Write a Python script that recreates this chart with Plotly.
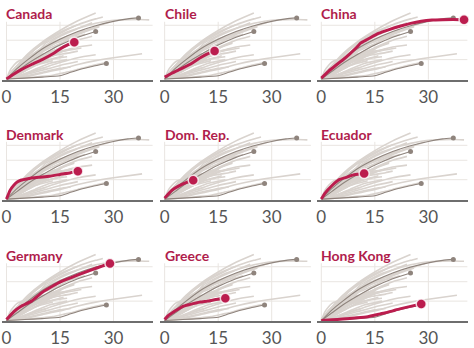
import plotly.graph_objects as go

# ---------------- data (x = days, y = log10 of cases) ----------------
panels = ["Canada", "Chile", "China", "Denmark", "Dom. Rep.", "Ecuador",
          "Germany", "Greece", "Hong Kong"]

canada_days = [0, 2, 4, 7, 10, 13, 15, 17, 19]
canada_vals = [2.0, 2.25, 2.47, 2.75, 3.0, 3.3, 3.55, 3.75, 3.9]

chile_days = [0, 2, 5, 7, 10, 12, 14]
chile_vals = [2.1, 2.3, 2.56, 2.75, 3.1, 3.3, 3.44]

china_days = [0, 2, 4, 6, 8, 10, 11, 13, 16, 19, 22, 25, 28, 31, 34, 37, 40]
china_vals = [2.05, 2.4, 2.7, 2.98, 3.3, 3.65, 3.85, 4.05, 4.35, 4.55, 4.72,
              4.87, 4.98, 5.04, 5.06, 5.07, 5.05]

denmark_days = [0, 1, 2, 3, 4, 6, 9, 12, 15, 18, 20]
denmark_vals = [2.0, 2.45, 2.7, 2.88, 2.97, 3.05, 3.12, 3.18, 3.27, 3.36, 3.44]

domrep_days = [0, 2, 4, 6, 8]
domrep_vals = [2.05, 2.45, 2.68, 2.85, 2.97]

ecuador_days = [0, 1, 3, 5, 7, 9, 11, 12]
ecuador_vals = [2.0, 2.3, 2.7, 3.0, 3.12, 3.25, 3.3, 3.32]

germany_days = [0, 2, 4, 7, 10, 13, 15, 18, 21, 24, 27, 29]
germany_vals = [2.05, 2.45, 2.72, 3.0, 3.45, 3.78, 3.98, 4.2, 4.42, 4.62, 4.82, 4.94]

greece_days = [0, 1, 3, 5, 7, 10, 12, 14, 17]
greece_vals = [2.05, 2.25, 2.5, 2.72, 2.82, 2.95, 3.0, 3.07, 3.15]

hongkong_days = [0, 3, 6, 10, 13, 16, 18, 20, 22, 25, 28]
hongkong_vals = [2.0, 2.04, 2.08, 2.14, 2.2, 2.32, 2.4, 2.5, 2.6, 2.73, 2.85]

# reference countries (darker lines with end dots)
ref_days = [
    [0, 3, 6, 10, 15, 20, 25, 30, 34, 37],
    [0, 3, 6, 10, 15, 20, 25],
    [0, 5, 10, 15, 18, 21, 24, 28],
]
ref_vals = [
    [2.0, 2.55, 3.0, 3.55, 4.05, 4.45, 4.75, 4.97, 5.1, 5.15],
    [2.0, 2.4, 2.8, 3.25, 3.75, 4.15, 4.45],
    [2.0, 2.05, 2.1, 2.17, 2.35, 2.52, 2.65, 2.8],
]

# other background countries (light grey)
other_days = [
    [0, 3, 6, 10, 15, 20, 25],
    [0, 3, 6, 10, 15, 20, 25, 27],
    [0, 3, 6, 10, 15, 20, 24],
    [0, 3, 6, 10, 15, 20, 22],
    [0, 3, 6, 10, 15, 20, 26],
    [0, 3, 6, 10, 15, 20, 24],
    [0, 3, 6, 10, 15, 19],
    [0, 3, 6, 10, 14, 18],
    [0, 3, 6, 10, 15, 21],
    [0, 4, 8, 12, 16],
    [0, 4, 8, 12, 17],
    [0, 5, 10, 15, 20],
    [0, 5, 10, 15, 20, 25, 30, 38],
    [0, 4, 8, 13],
    [0, 3, 6, 9, 12],
    [0, 5, 10, 15, 18],
    [0, 4, 8, 12, 16, 20, 24],
    [0, 3, 7, 11, 16],
    [0, 5, 10, 15, 20, 25],
    [0, 2, 5, 8, 12, 16, 22],
    [0, 3, 6, 9, 12, 16, 20],
    [0, 4, 8, 12, 15],
    [0, 3, 6, 10, 14],
    [0, 4, 8, 11],
    [0, 2, 4, 7, 10, 13, 17, 22],
    [0, 3, 6, 9, 13, 17],
]
other_vals = [
    [2.0, 2.7, 3.3, 3.9, 4.5, 5.0, 5.4],
    [2.0, 2.6, 3.2, 3.8, 4.35, 4.8, 5.1, 5.2],
    [2.0, 2.5, 3.0, 3.6, 4.2, 4.6, 4.9],
    [2.0, 2.45, 2.9, 3.45, 4.0, 4.4, 4.55],
    [2.0, 2.3, 2.7, 3.2, 3.8, 4.3, 4.7],
    [2.0, 2.3, 2.6, 3.0, 3.4, 3.65, 3.75],
    [2.0, 2.4, 2.8, 3.2, 3.6, 3.85],
    [2.0, 2.2, 2.5, 2.9, 3.3, 3.55],
    [2.0, 2.3, 2.7, 3.1, 3.4, 3.6],
    [2.0, 2.3, 2.7, 3.0, 3.2],
    [2.0, 2.2, 2.5, 2.8, 3.0],
    [2.0, 2.2, 2.45, 2.7, 2.9],
    [2.0, 2.1, 2.3, 2.5, 2.75, 2.95, 3.1, 3.3],
    [2.0, 2.35, 2.7, 2.95],
    [2.0, 2.4, 2.75, 3.0, 3.2],
    [2.0, 2.15, 2.35, 2.55, 2.62],
    [2.0, 2.4, 2.85, 3.3, 3.7, 4.0, 4.2],
    [2.0, 2.5, 3.0, 3.5, 3.9],
    [2.0, 2.25, 2.55, 2.85, 3.1, 3.25],
    [2.0, 2.4, 2.9, 3.3, 3.7, 4.0, 4.3],
    [2.0, 2.6, 3.2, 3.7, 4.1, 4.5, 4.8],
    [2.0, 2.5, 3.0, 3.4, 3.55],
    [2.0, 2.35, 2.65, 3.0, 3.25],
    [2.0, 2.2, 2.45, 2.6],
    [2.0, 2.5, 2.85, 3.25, 3.6, 3.9, 4.2, 4.45],
    [2.0, 2.45, 2.85, 3.15, 3.4, 3.5],
]

x_ticks = [0, 15, 30]
y_grid = [3, 4, 4.77]

# ---------------- styling ----------------
W, H = 474, 348
CRIMSON = "#bb1d4e"
DARK = "#8f847d"
LIGHT = "#d9d3ce"
GRID = "#e9e5e1"

highlight = {
    "Canada": (canada_days, canada_vals),
    "Chile": (chile_days, chile_vals),
    "China": (china_days, china_vals),
    "Denmark": (denmark_days, denmark_vals),
    "Dom. Rep.": (domrep_days, domrep_vals),
    "Ecuador": (ecuador_days, ecuador_vals),
    "Germany": (germany_days, germany_vals),
    "Greece": (greece_days, greece_vals),
    "Hong Kong": (hongkong_days, hongkong_vals),
}

col_px = [(1.2, 152.1), (159.7, 310.6), (316.7, 467.6)]
row_axis_px = [81.0, 202.8, 326.0]
plot_h = 69.0
x_range = [-1.2, 41]
y_range = [1.96, 1.96 + plot_h / 19.7]

fig = go.Figure()
layout = {}
shapes = []
annotations = []

for i, name in enumerate(panels):
    r, c = divmod(i, 3)
    n = i + 1
    xa = "x" if n == 1 else f"x{n}"
    ya = "y" if n == 1 else f"y{n}"
    xk = "xaxis" if n == 1 else f"xaxis{n}"
    yk = "yaxis" if n == 1 else f"yaxis{n}"

    x0, x1 = col_px[c]
    yb = row_axis_px[r]
    layout[xk] = dict(
        domain=[x0 / W, x1 / W], range=x_range, anchor=ya,
        showgrid=False, zeroline=False, showline=True,
        linecolor="#6e6e6e", linewidth=1.5,
        tickvals=x_ticks, ticks="", ticklabelstandoff=1,
        tickfont=dict(family="Lato", size=17, color="#555555"),
        fixedrange=True,
    )
    layout[yk] = dict(
        domain=[(H - yb) / H, (H - yb + plot_h) / H], range=y_range, anchor=xa,
        showgrid=False, zeroline=False, showline=False, showticklabels=False,
        fixedrange=True,
    )

    for gv in y_grid:
        shapes.append(dict(type="line", xref=xa, yref=ya, x0=0, x1=x_range[1],
                           y0=gv, y1=gv, line=dict(color=GRID, width=1),
                           layer="below"))
    for tv in x_ticks:
        shapes.append(dict(type="line", xref=xa, yref=ya, x0=tv, x1=tv,
                           y0=y_range[0], y1=4.95, line=dict(color=GRID, width=1),
                           layer="below"))

    # background: other countries + other highlighted countries
    bg = list(zip(other_days, other_vals)) + [v for k, v in highlight.items() if k != name]
    for d, v in bg:
        fig.add_trace(go.Scatter(x=d, y=v, mode="lines", xaxis=xa, yaxis=ya,
                                 line=dict(color=LIGHT, width=1.6, shape="spline", smoothing=0.5),
                                 hoverinfo="skip", showlegend=False))
    for d, v in zip(ref_days, ref_vals):
        fig.add_trace(go.Scatter(x=d, y=v, mode="lines", xaxis=xa, yaxis=ya,
                                 line=dict(color=DARK, width=1.1, shape="spline", smoothing=0.5),
                                 hoverinfo="skip", showlegend=False))
        fig.add_trace(go.Scatter(x=d[-1:], y=v[-1:], mode="markers", xaxis=xa, yaxis=ya,
                                 marker=dict(color=DARK, size=5),
                                 hoverinfo="skip", showlegend=False))

    hd, hv = highlight[name]
    fig.add_trace(go.Scatter(x=hd, y=hv, mode="lines", xaxis=xa, yaxis=ya,
                             line=dict(color=CRIMSON, width=3, shape="spline", smoothing=0.5),
                             hoverinfo="skip", showlegend=False))
    fig.add_trace(go.Scatter(x=hd[-1:], y=hv[-1:], mode="markers", xaxis=xa, yaxis=ya,
                             marker=dict(color=CRIMSON, size=10,
                                         line=dict(color="rgba(255,255,255,0.8)", width=1.5)),
                             cliponaxis=False, hoverinfo="skip", showlegend=False))

    annotations.append(dict(
        text=f"<b>{name}</b>", xref=xa, x=0, xanchor="left", xshift=-2,
        yref="paper", y=1 - (14 + r * 122.5) / H, yanchor="middle",
        showarrow=False, font=dict(family="Lato", size=14, color="#b01d4c"),
    ))

fig.update_layout(
    width=W, height=H, margin=dict(l=0, r=0, t=0, b=0),
    paper_bgcolor="white", plot_bgcolor="white",
    shapes=shapes, annotations=annotations, showlegend=False,
    **layout,
)

fig.write_html("out.html", config={"displayModeBar": False})
